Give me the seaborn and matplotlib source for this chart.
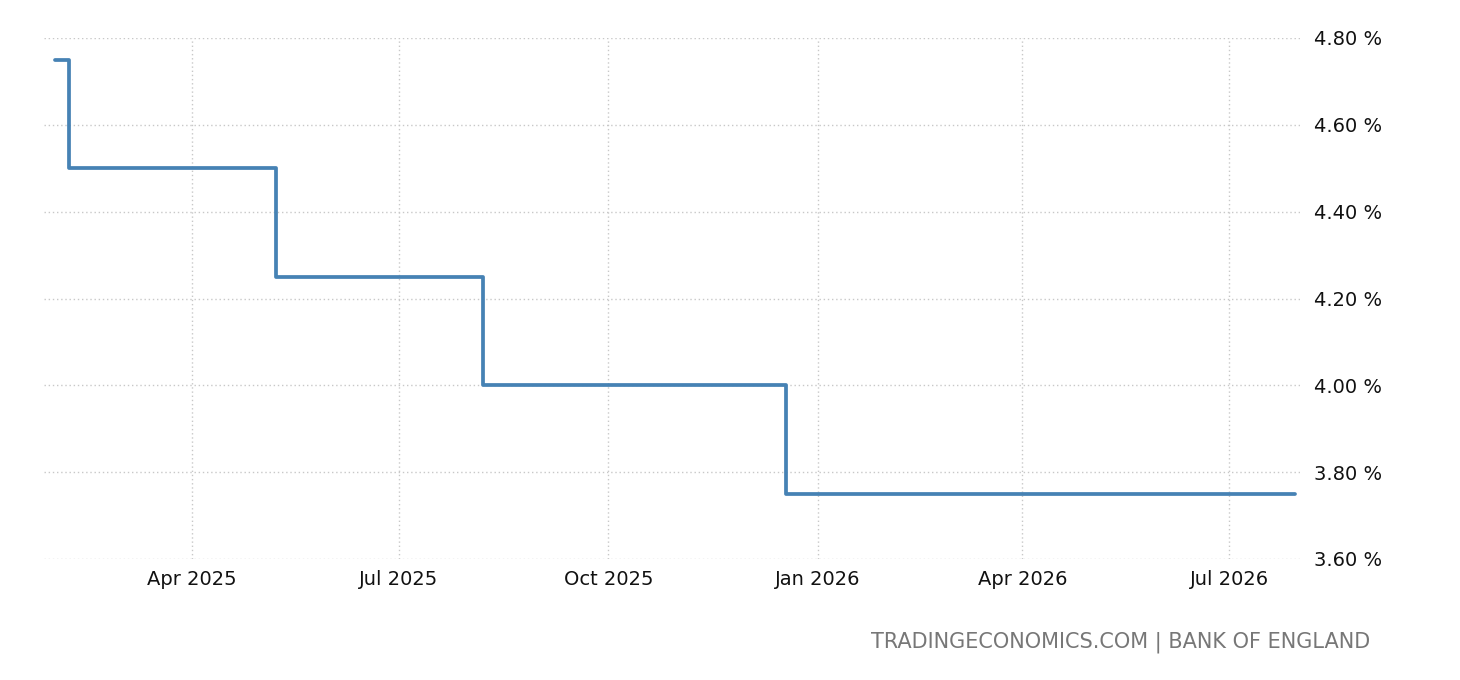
import pandas as pd
import numpy as np
import matplotlib
matplotlib.use("Agg")
import matplotlib.pyplot as plt
import matplotlib.dates as mdates
import seaborn as sns

# Bank Rate decisions (step series)
dates = ["2025-01-31", "2025-02-06", "2025-05-08", "2025-08-07", "2025-12-18", "2026-07-30"]
rates = [4.75, 4.50, 4.25, 4.00, 3.75, 3.75]

tick_dates = ["2025-04-01", "2025-07-01", "2025-10-01", "2026-01-01", "2026-04-01", "2026-07-01"]
tick_labels = ["Apr 2025", "Jul 2025", "Oct 2025", "Jan 2026", "Apr 2026", "Jul 2026"]
y_ticks = [3.60, 3.80, 4.00, 4.20, 4.40, 4.60, 4.80]

df = pd.DataFrame({"date": pd.to_datetime(dates), "rate": rates})

sns.set_style("white")
plt.rcParams["font.family"] = ["DejaVu Sans"]

fig = plt.figure(figsize=(14.6, 6.8), dpi=100)
ax = fig.add_axes([44 / 1460, 1 - 559 / 680, (1300 - 44) / 1460, (559 - 38) / 680])

sns.lineplot(data=df, x="date", y="rate", ax=ax, color="#4682b4", linewidth=2.7,
             drawstyle="steps-post")

ax.set_xlim(pd.Timestamp("2025-01-26"), pd.Timestamp("2026-08-01"))
ax.set_ylim(3.60, 4.80)

ax.set_xticks(pd.to_datetime(tick_dates))
ax.set_xticklabels(tick_labels)
ax.set_yticks(y_ticks)
ax.set_yticklabels(["%.2f %%" % v for v in y_ticks])

ax.yaxis.tick_right()
ax.tick_params(axis="y", length=0, pad=10, labelsize=14, labelcolor="#111111")
ax.tick_params(axis="x", length=8, width=1, color="#d0d0d0", pad=0, labelsize=14,
               labelcolor="#111111")

ax.grid(True, color="#c8c8c8", linestyle=(0, (1, 2)), linewidth=1)
for s in ax.spines.values():
    s.set_visible(False)
ax.set_xlabel("")
ax.set_ylabel("")

fig.text(1370 / 1460, 1 - 642 / 680, "TRADINGECONOMICS.COM | BANK OF ENGLAND",
         ha="right", va="center", fontsize=15, color="#777777")

fig.savefig("out.png", dpi=100)
